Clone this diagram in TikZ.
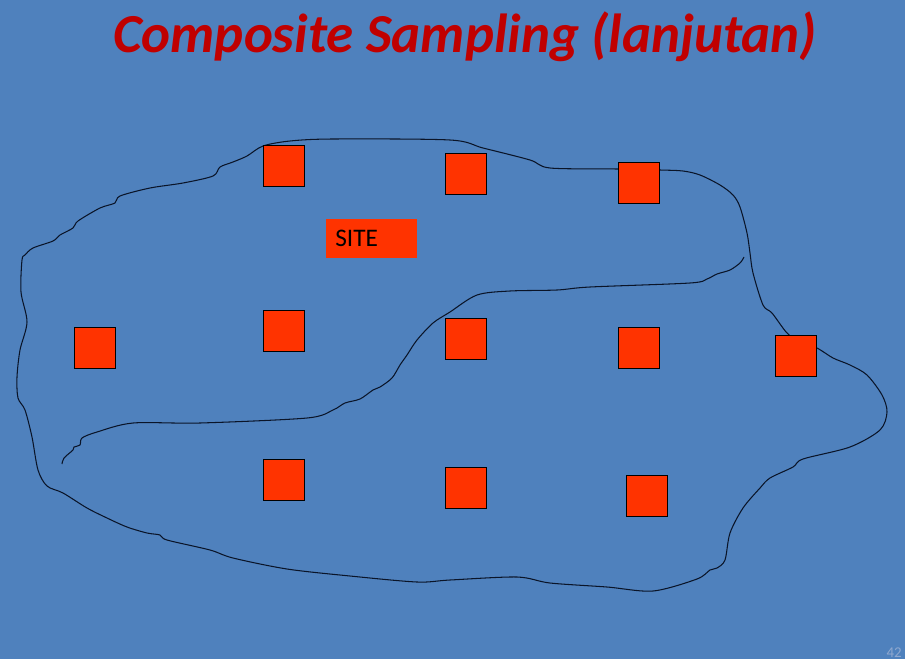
\documentclass[tikz,border=0pt]{standalone}
\usepackage{fontspec}
\setmainfont{Carlito}
\usetikzlibrary{positioning}
\definecolor{slidebg}{HTML}{4F81BD}
\definecolor{sqred}{HTML}{FF3300}
\definecolor{titlered}{HTML}{C00000}
\definecolor{pagegray}{HTML}{8FA8CF}
\definecolor{edgeline}{HTML}{0A1428}

\begin{document}
\begin{tikzpicture}[
    x=0.02cm, y=-0.02cm,
    sample/.style={draw=black, line width=0.55pt, fill=sqred, rectangle, minimum size=0.82cm, inner sep=0pt},
    sitebox/.style={fill=sqred, rectangle, minimum width=1.82cm, minimum height=0.78cm, inner sep=0pt},
    border/.style={draw=edgeline, line width=0.6pt}
]
\fill[slidebg] (0,0) rectangle (905,659);
\useasboundingbox (0,0) rectangle (905,659);

% Title
\node[anchor=base, inner sep=0pt, font=\fontsize{31.3}{37}\selectfont\bfseries\itshape, text=titlered] (title) at (465,52) {Composite Sampling (lanjutan)};

% Batas lokasi
\draw[border] plot[smooth cycle, tension=0.5] coordinates {
  (25,255) (33,248) (53,241) (60,235) (73,228) (78,221) (100,208) (115,203) (120,196)
  (150,188) (183,183) (213,176) (220,167) (233,162) (247,156) (263,146) (290,141)
  (333,139) (450,140) (483,148) (530,160) (550,168) (617,169) (660,170) (683,171)
  (700,175) (720,185) (733,195) (740,207) (747,233) (750,253) (753,273) (763,305)
  (772,313) (787,333) (800,342) (817,348) (833,358) (850,365) (867,375) (882,395)
  (887,412) (880,430) (850,447) (803,459) (793,467) (770,478) (760,488) (743,508)
  (730,533) (725,560) (717,568) (710,570) (697,579) (653,591) (607,587) (550,583)
  (517,577) (450,580) (417,582) (350,576) (287,569) (233,558) (210,550) (167,540)
  (160,535) (147,533) (127,527) (107,518) (87,508) (63,493) (47,486) (38,470)
  (32,437) (25,410) (18,398) (17,377) (20,350) (27,322) (21,292) (22,260)};

% Garis pembagi
\draw[border] plot[smooth, tension=0.5] coordinates {
  (62,464) (64,458) (73,450) (74,447) (80,445) (82,438) (97,432) (133,423) (200,423)
  (307,418) (333,410) (345,403) (360,399) (373,390) (380,387) (392,378) (400,365)
  (407,355) (417,340) (433,323) (450,312) (477,295) (510,291) (557,290) (590,287)
  (690,283) (707,279) (717,274) (730,270) (740,263) (744,257)};

% Kotak sampel
\node[sample] (S1) at (284,165.5) {};
\node[sample] (S2) at (466,174) {};
\node[sample] (S3) at (638.5,182.5) {};
\node[sample] (S4) at (94.5,347.5) {};
\node[sample] (S5) at (284,330.5) {};
\node[sample] (S6) at (465.5,339) {};
\node[sample] (S7) at (638.5,347.5) {};
\node[sample] (S8) at (795.5,355.5) {};
\node[sample] (S9) at (284,479.5) {};
\node[sample] (S10) at (465.5,487.5) {};
\node[sample] (S11) at (647,495.5) {};

% Label
\node[sitebox] (site) at (371.5,238.5) {};
\node[anchor=base west, inner sep=0pt, font=\fontsize{14.4}{17}\selectfont, text=black] (sitetext) at (335,246) {SITE};

% Nomor halaman
\node[anchor=base east, inner sep=0pt, font=\fontsize{8.5}{10}\selectfont, text=pagegray] (pagenum) at (902,657) {42};
\end{tikzpicture}
\end{document}
